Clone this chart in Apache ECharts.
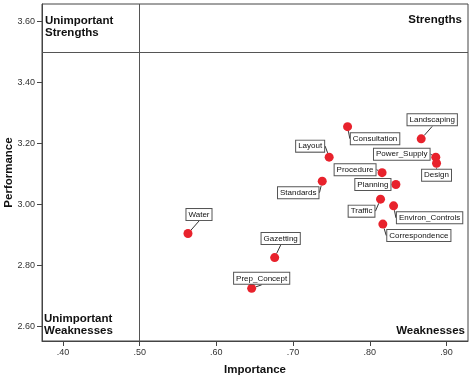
<!DOCTYPE html>
<html>
<head>
<meta charset="utf-8">
<script src="https://cdn.jsdelivr.net/npm/echarts@6/dist/echarts.min.js"></script>
<style>
  html, body { margin: 0; padding: 0; background: #fff; }
  #chart { width: 474px; height: 377px; }
</style>
</head>
<body>
<div id="chart"></div>
<script>
// importance-performance grid
const names = ['Water', 'Gazetting', 'Prep_Concept', 'Standards', 'Layout', 'Consultation', 'Procedure',
  'Planning', 'Traffic', 'Environ_Controls', 'Correspondence', 'Landscaping', 'Power_Supply', 'Design']
const importance = [0.563, 0.676, 0.646, 0.738, 0.747, 0.771, 0.816, 0.834, 0.814, 0.831, 0.817, 0.867, 0.886, 0.887]
const performance = [2.904, 2.825, 2.724, 3.076, 3.155, 3.255, 3.104, 3.065, 3.017, 2.995, 2.935, 3.215, 3.155, 3.135]
const xTicks = [0.40, 0.50, 0.60, 0.70, 0.80, 0.90]
const yTicks = [2.60, 2.80, 3.00, 3.20, 3.40, 3.60]
const xSplit = 0.50 // importance cut
const ySplit = 3.50 // performance cut

// where each label box sits relative to its point (px)
const labelShift = [[11, -19], [6, -19], [10, -10], [-24, 11.5], [-19, -11], [27.5, 12], [-27, -3],
  [-23, 0], [-19, 12], [36, 12], [36, 11.5], [11, -19], [-34, -3], [0, 12]]

const chart = echarts.init(document.getElementById('chart'))

const axisFont = 'Liberation Sans, Arial, sans-serif'
const fmt = (v) => v.toFixed(2).replace(/^0/, '')

const quadText = (text, pos) => Object.assign({
  type: 'text',
  z: 10,
  style: {
    text: text,
    fill: '#111',
    font: 'bold 11.5px Liberation Sans, Arial, sans-serif',
    lineHeight: 12
  }
}, pos)

const option = {
  animation: false,
  backgroundColor: '#fff',
  grid: {
    left: 42,
    right: 6,
    top: 4,
    bottom: 36,
    containLabel: false,
    outerBoundsMode: 'none',
    show: true,
    borderColor: '#444',
    borderWidth: 1
  },
  xAxis: {
    type: 'value',
    min: 0.3727,
    max: 0.928,
    name: 'Importance',
    nameLocation: 'middle',
    nameGap: 23,
    nameMoveOverlap: false,
    nameTextStyle: { fontFamily: axisFont, fontWeight: 'bold', fontSize: 11.5, color: '#111' },
    axisLine: { show: true, lineStyle: { color: '#444' } },
    axisTick: { show: true, length: 5, customValues: xTicks, lineStyle: { color: '#444' } },
    axisLabel: { customValues: xTicks, formatter: fmt, fontFamily: axisFont, fontSize: 9, color: '#333', margin: 7 },
    splitLine: { show: false }
  },
  yAxis: {
    type: 'value',
    min: 2.551,
    max: 3.658,
    name: 'Performance',
    nameLocation: 'middle',
    nameGap: 27,
    nameMoveOverlap: false,
    nameTextStyle: { fontFamily: axisFont, fontWeight: 'bold', fontSize: 11.5, color: '#111' },
    axisLine: { show: true, lineStyle: { color: '#444' } },
    axisTick: { show: true, length: 5, customValues: yTicks, lineStyle: { color: '#444' } },
    axisLabel: { customValues: yTicks, formatter: (v) => v.toFixed(2), fontFamily: axisFont, fontSize: 9, color: '#333', margin: 7 },
    splitLine: { show: false }
  },
  series: [
    {
      type: 'scatter',
      symbolSize: 9,
      itemStyle: { color: '#e8222c', opacity: 1 },
      data: names.map((n, i) => ({ name: n, value: [importance[i], performance[i]] })),
      label: {
        show: true,
        formatter: '{b}',
        fontFamily: axisFont,
        fontSize: 8,
        color: '#111',
        backgroundColor: '#fff',
        borderColor: '#555',
        borderWidth: 1,
        padding: [2, 2, 1, 2]
      },
      labelLine: { show: true, lineStyle: { color: '#333', width: 1 } },
      labelLayout: (p) => {
        const s = labelShift[p.dataIndex]
        return {
          x: p.rect.x + p.rect.width / 2 + s[0],
          y: p.rect.y + p.rect.height / 2 + s[1],
          align: 'center',
          verticalAlign: 'middle'
        }
      },
      markLine: {
        silent: true,
        symbol: 'none',
        label: { show: false },
        lineStyle: { color: '#555', type: 'solid', width: 1 },
        data: [{ xAxis: xSplit }, { yAxis: ySplit }]
      }
    }
  ],
  graphic: [
    quadText('Unimportant\nStrengths', { left: 45, top: 15 }),
    quadText('Strengths', { right: 12, top: 14 }),
    quadText('Unimportant\nWeaknesses', { left: 44, top: 313 }),
    quadText('Weaknesses', { right: 9, top: 325 })
  ]
}

chart.setOption(option)
</script>
</body>
</html>
